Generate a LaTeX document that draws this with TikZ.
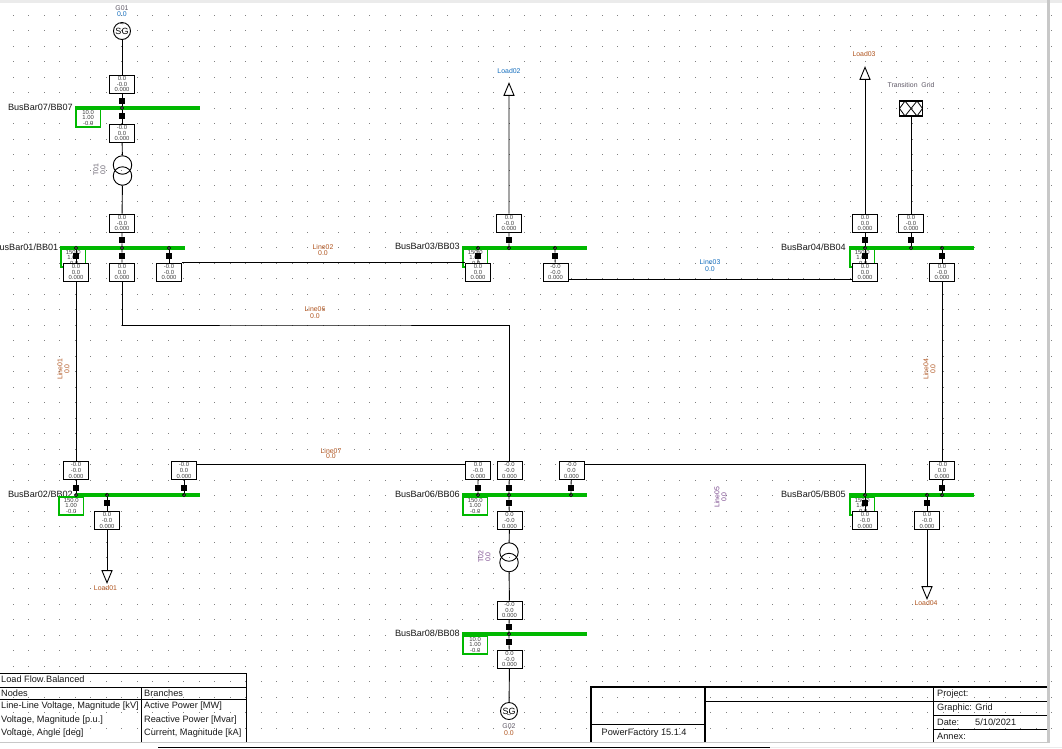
\documentclass[tikz,border=0pt]{standalone}
\usepackage{fontspec}
\setmainfont{Liberation Sans}
\usetikzlibrary{shapes.geometric}
\definecolor{busgreen}{RGB}{0,184,0}
\definecolor{labbrown}{RGB}{176,84,30}
\definecolor{labblue}{RGB}{20,110,190}
\definecolor{labgrey}{RGB}{96,90,104}
\definecolor{labpurple}{RGB}{120,70,140}
\definecolor{winedge}{RGB}{200,200,200}
\tikzset{
  griddot/.style={fill=black!50,inner sep=0pt,minimum size=1pt},
  resbox/.style={draw,line width=0.9pt,fill=white,minimum width=25pt,minimum height=18pt,
    inner sep=0pt,align=center,text=black!75,font=\fontsize{5.9}{5.8}\selectfont},
  nodebox/.style={anchor=north west,minimum width=24pt,minimum height=17.5pt,
    inner sep=0pt,align=center,text=black!75,font=\fontsize{5.9}{5.8}\selectfont},
  nodeframe/.style={draw=busgreen,line width=1.5pt},
  brk/.style={fill=black,inner sep=0pt,minimum size=6.5pt},
  term/.style={circle,draw,fill=white,line width=0.9pt,inner sep=0pt,minimum size=2.8pt},
  busbar/.style={fill=busgreen,inner sep=0pt,minimum height=3.2pt,anchor=west},
  buslab/.style={anchor=east,inner sep=0pt,font=\fontsize{9.1}{10}\selectfont,text=black!90},
  small/.style={inner sep=0pt,align=center,font=\fontsize{6.9}{6.6}\selectfont},
  wire/.style={line width=0.9pt},
  gen/.style={circle,draw,line width=0.9pt,minimum size=17pt,inner sep=0pt,font=\fontsize{9}{10}\selectfont},
  trafo/.style={circle,draw,line width=0.9pt,minimum size=18.5pt,inner sep=0pt},
  loadup/.style={isosceles triangle,isosceles triangle stretches,draw,line width=0.9pt,fill=white,
    shape border rotate=90,minimum width=10pt,minimum height=12pt,inner sep=0pt},
  loaddown/.style={loadup,shape border rotate=-90},
  extgrid/.style={draw,line width=1.3pt,minimum width=23pt,minimum height=15pt,inner sep=0pt,
    path picture={\draw[line width=0.8pt,shift={(path picture bounding box.center)}]
      (-11.5,0) -- (-6,-7.5) -- (6,7.5) -- (11.5,0) -- (6,-7.5) -- (-6,7.5) -- cycle;}},
  tabtext/.style={anchor=west,inner sep=0pt,font=\fontsize{9.2}{10}\selectfont,text=black!90},
}
\begin{document}
\begin{tikzpicture}[x=1pt,y=-1pt]
  \useasboundingbox (0,0) rectangle (1062,748);
  \fill[white] (0,0) rectangle (1062,748);
  % Drawing grid
  \foreach \i in {0,...,67}
    \foreach \j in {0,...,47}
      \node[griddot] at ({13.3+15.5*\i},{15.3+15.5*\j}) {};
  % Window edges
  \fill[black!8] (0,0) rectangle (1062,3);
  \fill[winedge] (1047,0) rectangle (1049.5,743);
  \fill[white] (0,743) rectangle (1062,748);
  \fill[winedge] (0,741.5) rectangle (1049.5,743);
  \fill[black!8] (770,746.5) rectangle (1062,748);
  \fill[black] (158,746.5) rectangle (770,748);

  % Busbars
  \node[busbar,minimum width=125pt] (bb07) at (75,108) {};
  \node[busbar,minimum width=125pt] (bb01) at (60,248) {};
  \node[busbar,minimum width=125pt] (bb03) at (462,248) {};
  \node[busbar,minimum width=125pt] (bb04) at (849,248) {};
  \node[busbar,minimum width=124pt] (bb02) at (76,495) {};
  \node[busbar,minimum width=125pt] (bb06) at (462,495) {};
  \node[busbar,minimum width=125pt] (bb05) at (849,495) {};
  \node[busbar,minimum width=125pt] (bb08) at (462,634) {};
  % Busbar names
  \node[buslab] (nb07) at (73,107.5) {BusBar07/BB07};
  \node[buslab] (nb01) at (58.5,247.5) {usBar01/BB01};
  \node[buslab] (nb03) at (460,246.5) {BusBar03/BB03};
  \node[buslab] (nb04) at (846,247) {BusBar04/BB04};
  \node[buslab] (nb02) at (73,494.5) {BusBar02/BB02};
  \node[buslab] (nb06) at (460,494.5) {BusBar06/BB06};
  \node[buslab] (nb05) at (846,494.5) {BusBar05/BB05};
  \node[buslab] (nb08) at (460,633.5) {BusBar08/BB08};
  % Node results
  \node[nodebox] (v07) at (76,109) {10.0\\1.00\\-0.9};
  \node[nodebox] (v01) at (61,249) {150.0\\1.00\\-0.0};
  \node[nodebox] (v03) at (463,249) {150.0\\1.00\\-0.0};
  \node[nodebox] (v04) at (850,249) {150.0\\1.00\\-0.0};
  \node[nodebox] (v02) at (59,497) {150.0\\1.00\\-0.0};
  \node[nodebox] (v06) at (463,497) {150.0\\1.00\\-0.0};
  \node[nodebox] (v05) at (850,497) {150.0\\1.00\\-0.0};
  \node[nodebox] (v08) at (463,636) {10.0\\1.00\\-0.0};
  \foreach \nm in {v07,v01,v03,v04,v02,v06,v05,v08}
    \draw[nodeframe] (\nm.north west) rectangle (\nm.south east);

  % Result boxes
  \foreach \nm/\px/\py/\pw/\qv in {
    r70/122/84/0.0/-0.0, r71/122/133/-0.0/0.0,
    r10/122/223/0.0/-0.0, r11/76/272/0.0/0.0, r12/122/272/0.0/0.0, r13/169/272/-0.0/-0.0,
    r30/509/223/0.0/-0.0, r31/478/272/0.0/0.0, r33/555.5/272/-0.0/-0.0,
    r40/865/223/0.0/0.0, r4g/911/223/0.0/-0.0, r41/865/272/0.0/0.0, r43/942/272/0.0/-0.0,
    r20/76/470.5/-0.0/-0.0, r23/184/470.5/-0.0/0.0, r21/107/520.5/0.0/-0.0,
    r60/478/470.5/0.0/-0.0, r62/509.5/470.5/-0.0/-0.0, r63/571.5/470.5/-0.0/0.0, r61/509.5/520.5/0.0/-0.0,
    r50/942/470.5/-0.0/0.0, r51/865/520.5/0.0/-0.0, r52/927/520.5/0.0/-0.0,
    r80/509.5/610/-0.0/0.0, r81/509.5/659/0.0/-0.0}
    \node[resbox] (\nm) at (\px,\py) {\pw\\\qv\\0.000};
  % Breakers
  \foreach \nm/\px/\py in {
    s70/122/101, s71/122/116, s10/122/240, s11/76/256, s12/122/256, s13/169/256,
    s30/509/240, s31/478/256, s33/555/256,
    s40/865/240, s4g/911/240, s41/865/256, s43/942/256,
    s20/76/488, s23/184/488, s21/107/503,
    s60/478/488, s62/509/488, s63/571/488, s61/509/503,
    s50/942/488, s51/865/503, s52/927/503,
    s80/509/627, s81/509/642}
    \node[brk] (\nm) at (\px,\py) {};
  % Terminals on the busbars
  \foreach \nm/\px/\py in {
    t7/122/108, t10/122/248, t11/76/248, t13/169/248,
    t30/509/248, t31/478/248, t33/555/248,
    t40/865/248, t4g/911/248, t43/942/248,
    t20/76/495, t23/184/495, t21/107/495,
    t60/478/495, t62/509/495, t63/571/495,
    t50/942/495, t51/865/495, t52/927/495,
    t8/509/634}
    \node[term] (\nm) at (\px,\py) {};

  % Generators and transformers
  \node[gen] (g01) at (122,31) {SG};
  \node[gen] (g02) at (509,711) {SG};
  \node[small] (g01til) at (122,25.5) {\textasciitilde};
  \node[small] (g02til) at (509,716.5) {\textasciitilde};
  \node[trafo] (t01a) at (122.5,165) {};
  \node[trafo] (t01b) at (122.5,176) {};
  \node[trafo] (t02a) at (509,552) {};
  \node[trafo] (t02b) at (509,562.5) {};
  % Loads and external grid
  \node[loadup] (load02) at (509,92) {};
  \node[loadup] (load03) at (865,76) {};
  \node[loaddown] (load01) at (107,574) {};
  \node[loaddown] (load04) at (927,590) {};
  \node[extgrid] (grid) at (911,108.5) {};

  % Connections
  \draw[wire] (g01) -- (r70) (r70) -- (s70) (s70) -- (t7) (t7) -- (s71) (s71) -- (r71);
  \draw[wire] (r71) -- (t01a) (t01b) -- (r10) (r10) -- (s10) (s10) -- (t10) (t10) -- (s12) (s12) -- (r12);
  \draw[wire] (t11) -- (s11) (s11) -- (r11) (t13) -- (s13) (s13) -- (r13);
  \draw[wire] (load02.south) -- (r30) (r30) -- (s30) (s30) -- (t30) (t31) -- (s31) (s31) -- (r31) (t33) -- (s33) (s33) -- (r33);
  \draw[wire] (load03.south) -- (r40) (r40) -- (s40) (s40) -- (t40) (t40) -- (s41) (s41) -- (r41);
  \draw[wire] (grid) -- (r4g) (r4g) -- (s4g) (s4g) -- (t4g) (t43) -- (s43) (s43) -- (r43);
  \draw[wire] (r20) -- (s20) (s20) -- (t20) (t21) -- (s21) (s21) -- (r21) (r21) -- (load01.north) (r23) -- (s23) (s23) -- (t23);
  \draw[wire] (r60) -- (s60) (s60) -- (t60) (r62) -- (s62) (s62) -- (t62) (t62) -- (s61) (s61) -- (r61) (r63) -- (s63) (s63) -- (t63);
  \draw[wire] (r61) -- (t02a) (t02b) -- (r80) (r80) -- (s80) (s80) -- (t8) (t8) -- (s81) (s81) -- (r81) (r81) -- (g02);
  \draw[wire] (r50) -- (s50) (s50) -- (t50) (t51) -- (s51) (s51) -- (r51) (t52) -- (s52) (s52) -- (r52) (r52) -- (load04.north);
  % Lines between busbars
  \coordinate (l06) at (315,325);
  \draw[wire] (r11) -- (r20);
  \draw[wire] (r13.north east) -- (r31.north west);
  \draw[wire] ([yshift=2pt]r33.south east) -- ([yshift=2pt]r41.south west);
  \draw[wire] (r43) -- (r50);
  \draw[wire] (r12.south) |- (l06) -| (r62.north);
  \draw[wire] ([yshift=-3.5pt]r23.north east) -- ([yshift=-3.5pt]r60.north west);
  \draw[wire] ([yshift=-3.5pt]r63.north east) -| (t51);

  % Element names
  \node[small,text=labgrey] (ng01) at (122,8) {G01};
  \node[small,text=labblue] (vg01) at (122,14.5) {0.0};
  \node[small,text=labgrey] (ng02) at (509,726.5) {G02};
  \node[small,text=labbrown] (vg02) at (509,733.5) {0.0};
  \node[small,text=labgrey,rotate=90] (nt01) at (96,170) {T01};
  \node[small,text=labgrey,rotate=90] (vt01) at (103,170) {0.0};
  \node[small,text=labpurple,rotate=90] (nt02) at (481,557) {T02};
  \node[small,text=labpurple,rotate=90] (vt02) at (488,557) {0.0};
  \node[small,text=labblue] (nl02) at (509,71) {Load02};
  \node[small,text=labbrown] (nl03) at (864,54.5) {Load03};
  \node[small,text=labbrown] (nl01) at (105.5,588) {Load01};
  \node[small,text=labbrown] (nl04) at (926,603) {Load04};
  \node[small,text=labgrey] (ngrid) at (911,85.5) {Transition\ \ Grid};
  \node[small,text=labbrown] (nli02) at (323,247) {Line02};
  \node[small,text=labbrown] (vli02) at (323,253.5) {0.0};
  \node[small,text=labbrown] (nli06) at (315,309) {Line06};
  \node[small,text=labbrown] (vli06) at (315,316) {0.0};
  \node[small,text=labblue] (nli03) at (710,262.5) {Line03};
  \node[small,text=labblue] (vli03) at (710,269.5) {0.0};
  \node[small,text=labbrown] (nli07) at (331,451) {Line07};
  \node[small,text=labbrown] (vli07) at (331,456.5) {0.0};
  \node[small,text=labbrown,rotate=90] (nli01) at (60,369) {Line01};
  \node[small,text=labbrown,rotate=90] (vli01) at (67,369) {0.0};
  \node[small,text=labbrown,rotate=90] (nli04) at (926,369) {Line04};
  \node[small,text=labbrown,rotate=90] (vli04) at (933,369) {0.0};
  \node[small,text=labpurple,rotate=90] (nli05) at (717,497) {Line05};
  \node[small,text=labpurple,rotate=90] (vli05) at (724,497) {0.0};

  % Legend table
  \draw[line width=0.9pt] (0,673.5) -- (246.5,673.5) -- (246.5,741.5);
  \draw[line width=0.9pt] (0,687.5) -- (246.5,687.5) (0,699) -- (246.5,699) (141.7,687.5) -- (141.7,741.5);
  \node[tabtext] (lgtitle) at (1,679) {Load Flow Balanced};
  \node[tabtext] (lgnodes) at (1,693) {Nodes};
  \node[tabtext] (lgbranch) at (144,693) {Branches};
  \node[tabtext] (lgu) at (1,706.5) {Line-Line Voltage, Magnitude [kV]};
  \node[tabtext] (lgup) at (1,720) {Voltage, Magnitude [p.u.]};
  \node[tabtext] (lgphi) at (1,733) {Voltage, Angle [deg]};
  \node[tabtext] (lgp) at (144,706.5) {Active Power [MW]};
  \node[tabtext] (lgq) at (144,720) {Reactive Power [Mvar]};
  \node[tabtext] (lgi) at (144,733) {Current, Magnitude [kA]};

  % Title block
  \draw[line width=2pt] (1047,686.7) -- (590.5,686.7) -- (590.5,741.5) (705,686.7) -- (705,741.5);
  \draw[line width=1.4pt] (933.5,686.7) -- (933.5,741.5);
  \draw[line width=0.9pt] (590.5,724.3) -- (705,724.3) (705,701.5) -- (1047,701.5)
    (933.5,715.5) -- (1047,715.5) (933.5,729.5) -- (1047,729.5);
  \node[tabtext] (tbsoft) at (601.5,733) {PowerFactory 15.1.4};
  \node[tabtext] (tbproj) at (937,694) {Project:};
  \node[tabtext] (tbgraph) at (937,708) {Graphic: Grid};
  \node[tabtext] (tbdate) at (937,722) {Date:};
  \node[tabtext] (tbday) at (975,722) {5/10/2021};
  \node[tabtext] (tbannex) at (937,736) {Annex:};
\end{tikzpicture}
\end{document}
